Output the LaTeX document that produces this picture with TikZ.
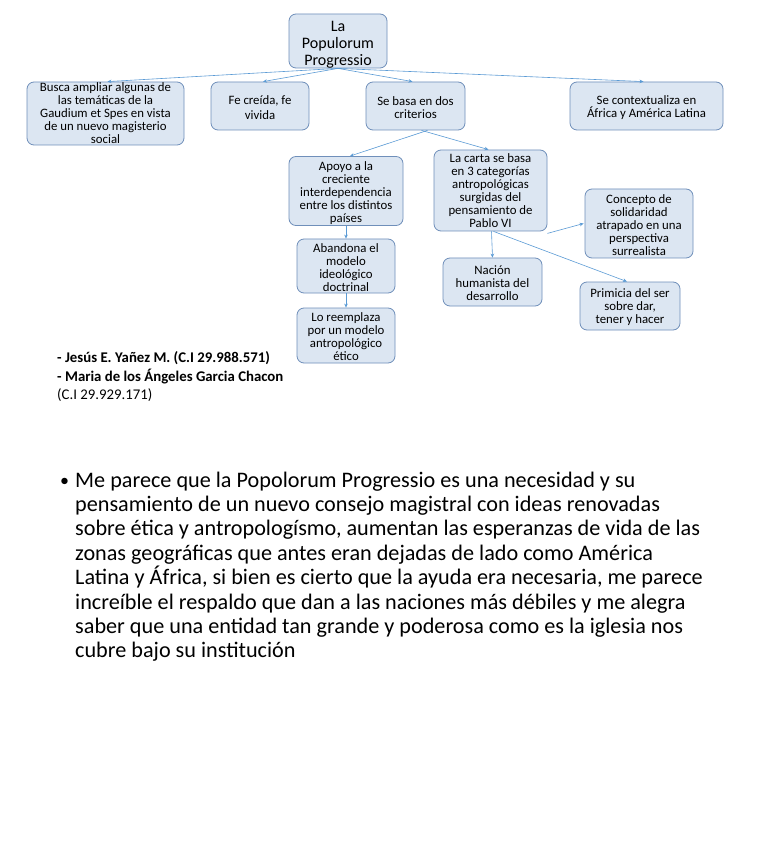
\documentclass[tikz,border=0pt]{standalone}
\usepackage{fontspec}
\setmainfont{Carlito}
\usetikzlibrary{arrows.meta}
\definecolor{boxfill}{HTML}{DCE6F2}
\definecolor{boxline}{HTML}{6F8FBA}
\definecolor{connline}{HTML}{5B9BD5}
\newcommand{\fstrut}[1]{\rule{0pt}{#1}}
\tikzset{
  cbox/.style={draw=boxline, fill=boxfill, line width=0.8pt, rounded corners=7pt, align=center,
    font=\fontsize{12.8}{13}\selectfont, inner sep=1pt},
  conn/.style={draw=connline, line width=0.6pt, -{Stealth[length=4pt,width=3.5pt]}},
  para/.style={anchor=base west, inner sep=0pt, font=\fontsize{22.2}{24}\selectfont},
  auth/.style={anchor=base west, inner sep=0pt, font=\fontsize{14.8}{16}\selectfont},
}
\begin{document}
\begin{tikzpicture}[x=1pt,y=-1pt]
\useasboundingbox (0,0) rectangle (768,866);
\fill[white] (0,0) rectangle (768,866);
\node[cbox, minimum width=98pt, minimum height=54pt, font=\fontsize{16}{17}\selectfont] (root) at (338,41) {\fstrut{15pt}La\\Populorum\\\smash{Progressio}};
\node[cbox, minimum width=157pt, minimum height=63pt] (busca) at (105.5,113.5) {Busca ampliar algunas de\\las temáticas de la\\Gaudium et Spes en vista\\de un nuevo magisterio\\social};
\node[cbox, minimum width=98pt, minimum height=48pt] (fe) at (260,106) {\fstrut{12pt}Fe creída, fe\\[2pt]vivida};
\node[cbox, minimum width=99pt, minimum height=48pt] (sebasa) at (415.5,106) {\fstrut{12pt}Se basa en dos\\criterios};
\node[cbox, minimum width=153pt, minimum height=48pt] (secont) at (646.5,106) {\fstrut{12pt}Se contextualiza en\\África y América Latina};
\node[cbox, minimum width=114pt, minimum height=66pt] (apoyo) at (346,191) {\fstrut{13pt}Apoyo a la\\creciente\\interdependencia\\entre los distintos\\países};
\node[cbox, minimum width=113pt, minimum height=81pt] (carta) at (490.5,190.5) {La carta se basa\\en 3 categorías\\antropológicas\\surgidas del\\pensamiento de\\Pablo VI};
\node[cbox, minimum width=98pt, minimum height=54pt] (abandona) at (346,266) {\fstrut{12pt}Abandona el\\modelo\\ideológico\\doctrinal};
\node[cbox, minimum width=98pt, minimum height=55pt] (reemplaza) at (346,335.5) {\fstrut{12pt}Lo reemplaza\\por un modelo\\antropológico\\ético};
\node[cbox, minimum width=108pt, minimum height=69pt] (concepto) at (639,223.5) {\fstrut{13pt}Concepto de\\solidaridad\\atrapado en una\\perspectiva\\surrealista};
\node[cbox, minimum width=99pt, minimum height=48pt] (nacion) at (492.5,282) {\fstrut{12pt}Nación\\humanista del\\desarrollo};
\node[cbox, minimum width=100pt, minimum height=48pt] (primicia) at (630,306) {\fstrut{12pt}Primicia del ser\\sobre dar,\\tener y hacer};

\draw[conn] (root.south) -- ([xshift=2pt]busca.north);
\draw[conn] (root.south) -- ([xshift=3pt]fe.north);
\draw[conn] (root.south) -- ([xshift=-3pt]sebasa.north);
\draw[conn] (root.south) -- ([xshift=-3pt]secont.north);
\draw[conn] ([xshift=12pt]sebasa.south) -- ([xshift=4pt]apoyo.north);
\draw[conn] ([xshift=6pt]sebasa.south) -- ([xshift=-2pt]carta.north);
\draw[conn] (apoyo.south) -- (abandona.north);
\draw[conn] (abandona.south) -- (reemplaza.north);
\draw[conn] ([xshift=1pt]carta.south) -- (nacion.north);
\draw[conn] ([yshift=-2pt]carta.south east) -- ([xshift=-1pt]concepto.west);
\draw[conn] ([xshift=3pt]carta.south) -- ([xshift=-3pt]primicia.north);

\node[auth, font=\fontsize{14.8}{16}\selectfont\bfseries] (a1) at (57,362) {- Jesús E. Yañez M. (C.I 29.988.571)};
\node[auth, font=\fontsize{14.8}{16}\selectfont\bfseries] (a2) at (57,381) {- Maria de los Ángeles Garcia Chacon};
\node[auth] (a3) at (57,399) {(C.I 29.929.171)};

\node[para, font=\fontsize{18}{20}\selectfont] (bul) at (60,486) {•};
\node[para] (l1) at (75,487) {Me parece que la Popolorum Progressio es una necesidad y su};
\node[para] (l2) at (75,511.4) {pensamiento de un nuevo consejo magistral con ideas renovadas};
\node[para] (l3) at (75,535.8) {sobre ética y antropologísmo, aumentan las esperanzas de vida de las};
\node[para] (l4) at (75,560.2) {zonas geográficas que antes eran dejadas de lado como América};
\node[para] (l5) at (75,584.6) {Latina y África, si bien es cierto que la ayuda era necesaria, me parece};
\node[para] (l6) at (75,609) {increíble el respaldo que dan a las naciones más débiles y me alegra};
\node[para] (l7) at (75,633.4) {saber que una entidad tan grande y poderosa como es la iglesia nos};
\node[para] (l8) at (75,657.8) {cubre bajo su institución};
\end{tikzpicture}
\end{document}
